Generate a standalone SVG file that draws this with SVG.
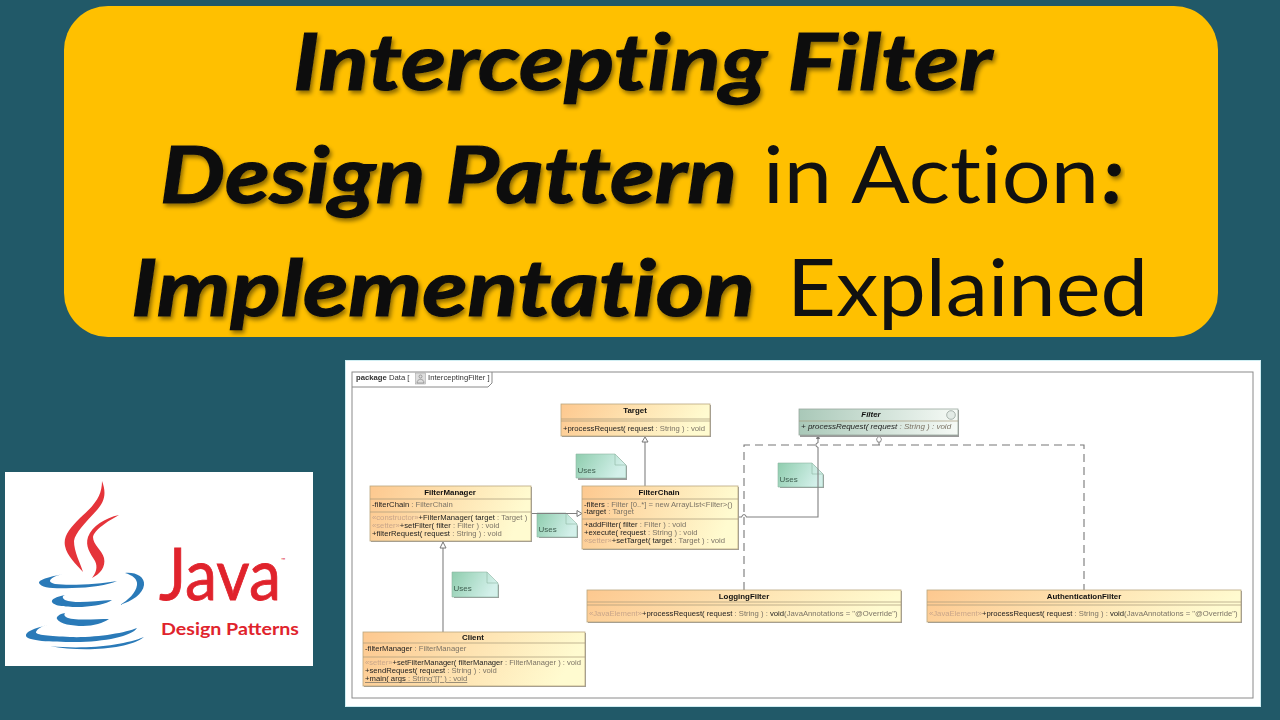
<svg xmlns="http://www.w3.org/2000/svg" width="1280" height="720" viewBox="0 0 1280 720">
<defs>
<linearGradient id="cg" x1="0" y1="0" x2="1" y2="0.15"><stop offset="0" stop-color="#fdc88f"/><stop offset="1" stop-color="#fffbd0"/></linearGradient>
<linearGradient id="ng" x1="0" y1="0" x2="1" y2="0.3"><stop offset="0" stop-color="#8fcdae"/><stop offset="1" stop-color="#d3f0ea"/></linearGradient>
<linearGradient id="ig" x1="0" y1="0" x2="1" y2="0"><stop offset="0" stop-color="#a9c8b8"/><stop offset="1" stop-color="#f6faf6"/></linearGradient>
<filter id="blur" x="-2%" y="-2%" width="104%" height="104%"><feGaussianBlur stdDeviation="0.3"/></filter>
<filter id="ts" x="-5%" y="-5%" width="110%" height="120%"><feDropShadow dx="2" dy="3" stdDeviation="2" flood-color="#000" flood-opacity="0.45"/></filter>
</defs>
<style>
.t{font-family:Lato,"Open Sans","Noto Sans",sans-serif;font-size:79px;fill:#111;font-variant-ligatures:none}
.b{font-weight:700;font-style:italic;stroke:#111;stroke-width:1.200px}
.box{fill:url(#cg);stroke:#b9a77f;stroke-width:.8}
.sh{fill:#9a9a9a}
.sep{stroke:#a89a78;stroke-width:.7}
.u{font-family:"Liberation Sans",Arial,sans-serif;font-size:7.7px;fill:#7c7466}
.d{fill:#222}
.n{font-weight:700;fill:#111;text-anchor:middle;font-size:7.9px}
.s{fill:#c9a68a}
.con{fill:none;stroke:#808080;stroke-width:1.1}
.dash{fill:none;stroke:#777;stroke-width:1.1;stroke-dasharray:8 5}
.note{fill:url(#ng);stroke:#8fb5a3;stroke-width:.6}
.fold{fill:none;stroke:#8fb5a3;stroke-width:.6}
.ut{font-family:"Liberation Sans",Arial,sans-serif;font-size:8px;fill:#3f5f50}
.lr{font-family:Lato,"Open Sans",sans-serif;fill:#e0232c}
</style>
<rect width="1280" height="720" fill="#215968"/>
<g id="title">
<rect x="64" y="6" width="1154" height="331" rx="44" fill="#ffc000"/>
<text class="t b" x="293" y="90" textLength="699" lengthAdjust="spacingAndGlyphs" filter="url(#ts)">Intercepting Filter</text>
<text class="t b" x="160" y="203" textLength="577" lengthAdjust="spacingAndGlyphs" filter="url(#ts)">Design Pattern</text>
<text class="t" x="763" y="203" textLength="336" lengthAdjust="spacingAndGlyphs">in Action</text>
<text class="t b" x="1103" y="203" filter="url(#ts)">:</text>
<text class="t b" x="131" y="316" textLength="624" lengthAdjust="spacingAndGlyphs" filter="url(#ts)">Implementation</text>
<text class="t" x="787" y="316" textLength="361" lengthAdjust="spacingAndGlyphs">Explained</text>
</g>
<g id="logo">
<rect x="5" y="472" width="308" height="194" fill="#fff"/>
<g fill="#e5343a">
<path d="M102 481C102 495 96 504 80 518C70 528 63 536 65 546C67 556 76 564 83 572C80 562 74 552 74 541C75 533 86 522 97 510C104 502 107 494 102 481Z"/>
<path d="M119 515C105 518 92 526 88 537C85 546 90 553 95 561C98 567 96 573 92 578C100 574 106 567 104 558C102 550 93 545 93 537C94 530 108 521 119 515Z"/>
</g>
<g fill="#2a7ab8">
<path d="M63 574C48 577 38 580 39 583C41 588 55 589 72 588C90 588 108 585 117 581C100 584 70 586 55 584C46 582 50 577 63 574Z"/>
<path d="M125 573C136 572 145 577 144 585C143 594 132 601 120 605C128 600 136 593 137 585C138 579 132 575 125 573Z"/>
<path d="M65 595C56 597 51 599 52 602C55 607 70 607 82 607C95 606 106 604 112 600C95 601 75 604 65 600C62 598 62 596 65 595Z"/>
<path d="M65 613C59 614 56 617 57 619C60 624 72 626 83 626C94 626 103 623 109 619C95 619 72 621 66 617C64 616 64 614 65 613Z"/>
<path d="M48 625C34 628 25 632 26 636C28 641 50 642 75 642C105 642 132 636 137 628C125 633 95 638 70 637C50 636 35 635 36 632C37 629 42 626 48 625Z"/>
<path d="M50 646C80 652 128 650 144 637C125 645 85 650 50 646Z"/>
</g>
<text class="lr" x="159" y="600" font-size="72" stroke="#e0232c" stroke-width=".8" textLength="126" lengthAdjust="spacingAndGlyphs">Java<tspan font-size="6" dy="-38" stroke="none">™</tspan></text>
<text class="lr" x="161" y="635" font-size="17" font-weight="700" textLength="138" lengthAdjust="spacingAndGlyphs">Design Patterns</text>
</g>
<g id="uml" filter="url(#blur)">
<g id="diagram-frame">
<rect x="345" y="360" width="916" height="347" fill="#fff"/>
<rect x="345.500" y="360.500" width="915" height="346" fill="none" stroke="#cfeef3"/>
<rect x="352" y="372" width="901" height="326" fill="#fff" stroke="#8a8a8a"/>
<path d="M352 387H488L492 383V372" fill="none" stroke="#8a8a8a"/>
<text x="356" y="380" font-family="Liberation Sans,Arial,sans-serif" font-size="7.700" fill="#333"><tspan font-weight="700">package</tspan> Data [</text>
<rect x="415.500" y="373" width="10" height="11" fill="#ddd" stroke="#999" stroke-width=".5"/>
<circle cx="420.500" cy="376.500" r="1.500" fill="none" stroke="#666" stroke-width=".5"/><path d="M417 383C417 378 424 378 424 383Z" fill="none" stroke="#666" stroke-width=".5"/>
<text x="428" y="380" font-family="Liberation Sans,Arial,sans-serif" font-size="7.700" fill="#333">InterceptingFilter ]</text>
</g>
<g id="note-1"><path class="sh" d="M578 456H617L627 466V480H578Z"/><path class="note" d="M576 454H615L626 465V478H576Z"/><path class="fold" d="M615 454V465H626"/><text class="ut" x="577.500" y="473">Uses</text></g>
<g id="note-2"><path class="sh" d="M539 515H567L578 526V538H539Z"/><path class="note" d="M537 513H566L577 524V537H537Z"/><path class="fold" d="M566 513V524H577"/><text class="ut" x="538.500" y="532">Uses</text></g>
<g id="note-3"><path class="sh" d="M780 465H814L824 475V488H780Z"/><path class="note" d="M778 463H812L823 474V487H778Z"/><path class="fold" d="M812 463V474H823"/><text class="ut" x="779.500" y="482">Uses</text></g>
<g id="note-4"><path class="sh" d="M454 574H488L499 585V598H454Z"/><path class="note" d="M452 572H487L498 583V597H452Z"/><path class="fold" d="M487 572V583H498"/><text class="ut" x="453.500" y="591">Uses</text></g>
<g id="connectors">
<path class="con" d="M645 486V442"/><path d="M645 437l-3 5h6z" fill="#fff" stroke="#777"/>
<path class="con" d="M531 513.500H577"/><path d="M582 513.500l-5-3v6z" fill="#fff" stroke="#777"/>
<path class="con" d="M443 632V548"/><path d="M443 542l-3 6h6z" fill="#fff" stroke="#777"/>
<path class="dash" d="M744 590V445H1084V590"/>
<path class="con" d="M738 517H741.500Q744 512 746.500 517H818V447.500Q813.500 445 818 442.500V437"/><path d="M818 434l-2 5h4z" fill="#777"/>
<path d="M879 436l-2.500 3 1 3h3l1-3z" fill="#fff" stroke="#777" stroke-width=".8"/><path d="M879 442V445" stroke="#777"/>
</g>
<g id="Target"><rect class="sh" x="562" y="405" width="149" height="32"/><rect class="box" x="561" y="404" width="149" height="32"/><path class="sep" d="M561 419H710M561 421H710"/><text class="u n" x="635" y="413">Target</text><text class="u" x="563" y="431"><tspan class="d">+processRequest(</tspan> <tspan class="d">request</tspan> : String ) : void</text></g>
<g id="Filter"><rect class="sh" x="800" y="410" width="159" height="27"/><rect x="799" y="409" width="159" height="26" fill="url(#ig)" stroke="#9aa89f" stroke-width=".8"/><path class="sep" d="M799 421H958"/><circle cx="951" cy="415" r="4.300" fill="#e3ebe6" stroke="#8c9a92" stroke-width=".7"/><text class="u n" x="871" y="417" font-style="italic">Filter</text><text class="u" x="801" y="429" font-style="italic" style="font-size:8px"><tspan class="d">+ processRequest(</tspan> <tspan class="d">request</tspan> : String ) : void</text></g>
<g id="FilterManager"><rect class="sh" x="371" y="487" width="161" height="55"/><rect class="box" x="370" y="486" width="161" height="55"/><path class="sep" d="M370 499H531M370 512H531"/><text class="u n" x="450" y="495">FilterManager</text><text class="u" x="372" y="507"><tspan class="d">-filterChain</tspan> : FilterChain</text><text class="u" x="372" y="520"><tspan class="s">«constructor»</tspan><tspan class="d">+FilterManager(</tspan> <tspan class="d">target</tspan> : Target )</text><text class="u" x="372" y="528"><tspan class="s">«setter»</tspan><tspan class="d">+setFilter(</tspan> <tspan class="d">filter</tspan> : Filter ) : void</text><text class="u" x="372" y="536"><tspan class="d">+filterRequest(</tspan> <tspan class="d">request</tspan> : String ) : void</text></g>
<g id="FilterChain"><rect class="sh" x="583" y="487" width="156" height="63"/><rect class="box" x="582" y="486" width="156" height="63"/><path class="sep" d="M582 499H738M582 519H738"/><text class="u n" x="659" y="495">FilterChain</text><text class="u" x="584" y="507"><tspan class="d">-filters</tspan> : Filter [0..*] = new ArrayList&lt;Filter&gt;()</text><text class="u" x="584" y="514"><tspan class="d">-target</tspan> : Target</text><text class="u" x="584" y="527"><tspan class="d">+addFilter(</tspan> <tspan class="d">filter</tspan> : Filter ) : void</text><text class="u" x="584" y="535"><tspan class="d">+execute(</tspan> <tspan class="d">request</tspan> : String ) : void</text><text class="u" x="584" y="543"><tspan class="s">«setter»</tspan><tspan class="d">+setTarget(</tspan> <tspan class="d">target</tspan> : Target ) : void</text></g>
<g id="LoggingFilter"><rect class="sh" x="588" y="591" width="314" height="32"/><rect class="box" x="587" y="590" width="314" height="32"/><path class="sep" d="M587 602H901M587 605H901"/><text class="u n" x="744" y="599">LoggingFilter</text><text class="u" x="589" y="616"><tspan class="s">«JavaElement»</tspan><tspan class="d">+processRequest(</tspan> <tspan class="d">request</tspan> : String ) : <tspan class="d">void</tspan>(JavaAnnotations = "@Override")</text></g>
<g id="AuthenticationFilter"><rect class="sh" x="928" y="591" width="314" height="32"/><rect class="box" x="927" y="590" width="314" height="32"/><path class="sep" d="M927 602H1241M927 605H1241"/><text class="u n" x="1084" y="599">AuthenticationFilter</text><text class="u" x="929" y="616"><tspan class="s">«JavaElement»</tspan><tspan class="d">+processRequest(</tspan> <tspan class="d">request</tspan> : String ) : <tspan class="d">void</tspan>(JavaAnnotations = "@Override")</text></g>
<g id="Client"><rect class="sh" x="364" y="633" width="222" height="54"/><rect class="box" x="363" y="632" width="222" height="54"/><path class="sep" d="M363 643H585M363 657H585"/><text class="u n" x="473" y="640">Client</text><text class="u" x="365" y="651"><tspan class="d">-filterManager</tspan> : FilterManager</text><text class="u" x="365" y="665" style="font-size:7.600px"><tspan class="s">«setter»</tspan><tspan class="d">+setFilterManager(</tspan> <tspan class="d">filterManager</tspan> : FilterManager ) : void</text><text class="u" x="365" y="673"><tspan class="d">+sendRequest(</tspan> <tspan class="d">request</tspan> : String ) : void</text><text class="u" x="365" y="681" text-decoration="underline"><tspan class="d">+main(</tspan> <tspan class="d">args</tspan> : String"[]" ) : void</text></g>
</g>
</svg>
